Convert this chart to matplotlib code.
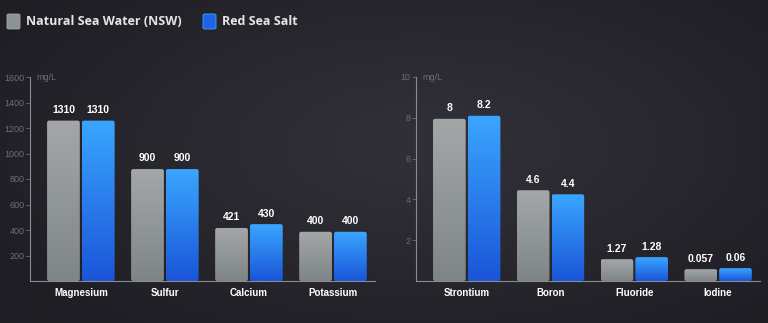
import numpy as np
import matplotlib
matplotlib.use('Agg')
import matplotlib.pyplot as plt
from matplotlib.patches import FancyBboxPatch
from matplotlib.colors import LinearSegmentedColormap

# data
major = ['Magnesium', 'Sulfur', 'Calcium', 'Potassium']
major_nsw_label = ['1310', '900', '421', '400']
major_rss_label = ['1310', '900', '430', '400']
major_nsw_height = [1258, 878, 416, 386]
major_rss_height = [1258, 878, 446, 386]

minor = ['Strontium', 'Boron', 'Fluoride', 'Iodine']
minor_nsw_label = ['8', '4.6', '1.27', '0.057']
minor_rss_label = ['8.2', '4.4', '1.28', '0.06']
minor_nsw_height = [7.95, 4.45, 1.07, 0.58]
minor_rss_height = [8.1, 4.25, 1.17, 0.63]

major_ticks = [200, 400, 600, 800, 1000, 1200, 1400, 1600]
minor_ticks = [2, 4, 6, 8, 10]

gray_cmap = LinearSegmentedColormap.from_list('g', ['#7f8587', '#a3a7a8'])
blue_cmap = LinearSegmentedColormap.from_list('b', ['#1a55d8', '#3aa6ff'])

W, H = 768, 323
fig = plt.figure(figsize=(W / 100, H / 100), dpi=100)

# dark vignette background
bg = fig.add_axes([0, 0, 1, 1])
yy, xx = np.mgrid[0:1:200j, 0:1:400j]
d = np.sqrt(((xx - 0.55) / 0.8) ** 2 + ((yy - 0.45) / 0.9) ** 2)
bg_cmap = LinearSegmentedColormap.from_list('bg', ['#302f37', '#1f1e24'])
bg.imshow(d, cmap=bg_cmap, aspect='auto', extent=[0, 1, 0, 1], vmin=0.1, vmax=0.8)
bg.set_axis_off()


def gradient_bar(ax, x, w, h, cmap, ymax):
    grad = np.linspace(0, 1, 256).reshape(-1, 1)
    im = ax.imshow(grad, cmap=cmap, origin='lower', aspect='auto',
                   extent=[x - w / 2, x + w / 2, 0, h], zorder=2)
    # rounding: ~2 px in both directions
    rx = 0.025
    asp = (ymax / 204.0) / (1 / 84.0)
    clip = FancyBboxPatch((x - w / 2, 0), w, h,
                          boxstyle='round,pad=0,rounding_size=%f' % rx,
                          mutation_aspect=asp, transform=ax.transData,
                          facecolor='none', edgecolor='none')
    ax.add_patch(clip)
    im.set_clip_path(clip)


def panel(rect, cats, nsw_h, rss_h, nsw_l, rss_l, ticks, ymax):
    ax = fig.add_axes(rect)
    ax.patch.set_alpha(0)
    bw = 0.39
    off = 0.207
    for i in range(len(cats)):
        gradient_bar(ax, i - off, bw, nsw_h[i], gray_cmap, ymax)
        gradient_bar(ax, i + off, bw, rss_h[i], blue_cmap, ymax)
        ax.annotate(nsw_l[i], (i - off, nsw_h[i]), xytext=(0, 4),
                    textcoords='offset points', ha='center', va='bottom',
                    color='white', fontsize=7.5, fontweight='bold',
                    family='Liberation Sans')
        ax.annotate(rss_l[i], (i + off, rss_h[i]), xytext=(0, 4),
                    textcoords='offset points', ha='center', va='bottom',
                    color='white', fontsize=7.5, fontweight='bold',
                    family='Liberation Sans')
    ax.set_xlim(-0.605, 3.5)
    ax.set_ylim(0, ymax)
    for s in ['top', 'right']:
        ax.spines[s].set_visible(False)
    for s in ['left', 'bottom']:
        ax.spines[s].set_color('#8a8a92')
        ax.spines[s].set_linewidth(0.8)
    ax.set_yticks(ticks)
    ax.set_yticklabels([str(t) for t in ticks], color='#6e6d76', fontsize=6.5,
                       family='Liberation Sans')
    ax.tick_params(axis='y', length=3, width=0.6, color='#6e6d76', pad=1)
    ax.set_xticks(range(len(cats)))
    ax.set_xticklabels(cats, color='white', fontsize=7, fontweight='bold',
                       family='Liberation Sans')
    ax.tick_params(axis='x', length=0, pad=5)
    ax.text(0.02, ymax, 'mg/L', transform=ax.get_yaxis_transform(),
            color='#6e6d76', fontsize=6.5, va='center', ha='left',
            family='Liberation Sans')
    return ax


panel([30 / W, (H - 281) / H, 345 / W, 204 / H], major,
      major_nsw_height, major_rss_height, major_nsw_label, major_rss_label,
      major_ticks, 1600)
panel([416 / W, (H - 281) / H, 344 / W, 204 / H], minor,
      minor_nsw_height, minor_rss_height, minor_nsw_label, minor_rss_label,
      minor_ticks, 10)

# legend
for x0, col, top, label in [(7, '#8d9293', '#a3a7a8', 'Natural Sea Water (NSW)'),
                            (203, '#1e63e6', '#3aa6ff', 'Red Sea Salt')]:
    sq = FancyBboxPatch((x0 / W, (H - 29) / H), 13 / W, 15 / H,
                        boxstyle='round,pad=0,rounding_size=0.003',
                        transform=fig.transFigure, facecolor=col,
                        edgecolor=top, linewidth=0.6)
    fig.patches.append(sq)
    fig.text((x0 + 19) / W, (H - 21.5) / H, label, color='#e6e6ea',
             fontsize=9, fontweight='bold', family='Open Sans', va='center')

fig.savefig('out.png', dpi=100)
